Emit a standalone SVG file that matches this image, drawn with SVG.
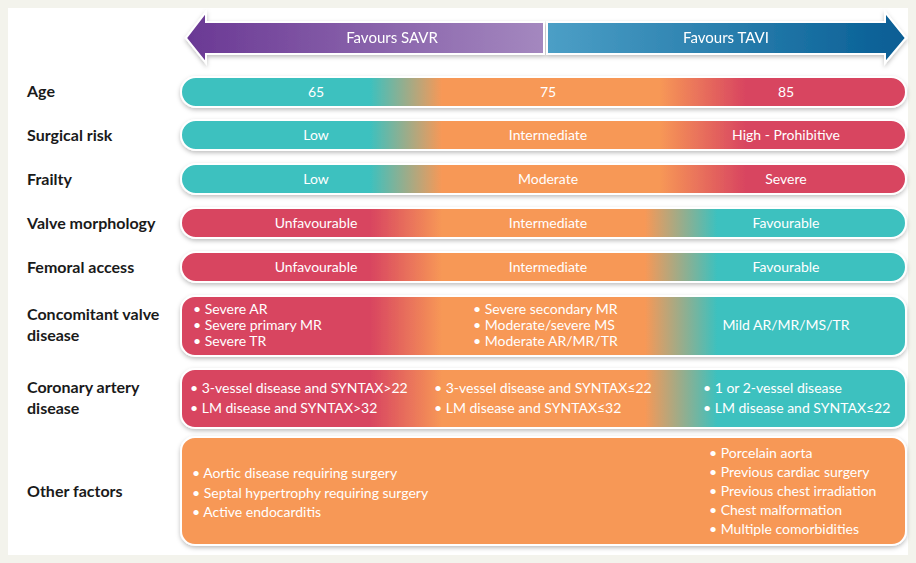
<svg xmlns="http://www.w3.org/2000/svg" width="916" height="563" viewBox="0 0 916 563">
<defs>
<linearGradient id="gP" x1="0" x2="1"><stop offset="0" stop-color="#6a3894"/><stop offset="1" stop-color="#a488bf"/></linearGradient>
<linearGradient id="gB" x1="0" x2="1"><stop offset="0" stop-color="#4c9fc6"/><stop offset="1" stop-color="#065d94"/></linearGradient>
<linearGradient id="gTOR" x1="0" x2="1"><stop offset="0.26" stop-color="#3cc1bf"/><stop offset="0.36" stop-color="#f79857"/><stop offset="0.66" stop-color="#f79857"/><stop offset="0.78" stop-color="#d84460"/></linearGradient>
<linearGradient id="gROT" x1="0" x2="1"><stop offset="0.26" stop-color="#d84460"/><stop offset="0.36" stop-color="#f79857"/><stop offset="0.64" stop-color="#f79857"/><stop offset="0.74" stop-color="#3cc1bf"/></linearGradient>
<filter id="sh" x="-5%" y="-20%" width="110%" height="150%"><feDropShadow dx="0" dy="2" stdDeviation="2" flood-color="#000" flood-opacity="0.25"/></filter>
</defs>
<style>
.bar{stroke:#fff;stroke-width:2;filter:url(#sh)}
.lab{font-family:"Lato","Liberation Sans",sans-serif;font-size:16px;font-weight:bold;fill:#1a1a1a}
.t{font-family:"Lato","Liberation Sans",sans-serif;font-size:14px;fill:#fff}
.a{font-size:15px}
.c{text-anchor:middle}
</style>
<rect width="916" height="563" fill="#f3f3ec"/>
<rect x="8" y="8" width="900" height="547" fill="#fff"/>
<g id="arrow" filter="url(#sh)">
<path d="M544,22 L206,22 L206,12 L186,38 L206,63 L206,54 L544,54 Z" fill="url(#gP)" stroke="#fff" stroke-width="2"/>
<path d="M547,22 L885,22 L885,12 L906,38 L885,63 L885,54 L547,54 Z" fill="url(#gB)" stroke="#fff" stroke-width="2"/>
<text class="t c a" x="392" y="43">Favours SAVR</text>
<text class="t c a" x="726" y="43">Favours TAVI</text>
</g>
<g id="age"><text class="lab" x="27" y="97">Age</text><rect class="bar" x="181" y="77" width="725" height="30" rx="15" fill="url(#gTOR)"/>
<text class="t c" x="316" y="97">65</text><text class="t c" x="548" y="97">75</text><text class="t c" x="786" y="97">85</text></g>
<g id="risk"><text class="lab" x="27" y="141">Surgical risk</text><rect class="bar" x="181" y="120" width="725" height="30" rx="15" fill="url(#gTOR)"/>
<text class="t c" x="316" y="140">Low</text><text class="t c" x="548" y="140">Intermediate</text><text class="t c" x="786" y="140">High - Prohibitive</text></g>
<g id="frailty"><text class="lab" x="27" y="185">Frailty</text><rect class="bar" x="181" y="164" width="725" height="30" rx="15" fill="url(#gTOR)"/>
<text class="t c" x="316" y="184">Low</text><text class="t c" x="548" y="184">Moderate</text><text class="t c" x="786" y="184">Severe</text></g>
<g id="valve"><text class="lab" x="27" y="229">Valve morphology</text><rect class="bar" x="181" y="208" width="725" height="30" rx="15" fill="url(#gROT)"/>
<text class="t c" x="316" y="228">Unfavourable</text><text class="t c" x="548" y="228">Intermediate</text><text class="t c" x="786" y="228">Favourable</text></g>
<g id="femoral"><text class="lab" x="27" y="273">Femoral access</text><rect class="bar" x="181" y="252" width="725" height="30" rx="15" fill="url(#gROT)"/>
<text class="t c" x="316" y="272">Unfavourable</text><text class="t c" x="548" y="272">Intermediate</text><text class="t c" x="786" y="272">Favourable</text></g>
<g id="concomitant"><text class="lab" x="27" y="320">Concomitant valve</text><text class="lab" x="27" y="341">disease</text>
<rect class="bar" x="181" y="296" width="725" height="60" rx="14" fill="url(#gROT)"/>
<text class="t" x="193" y="314">• Severe AR</text><text class="t" x="193" y="330">• Severe primary MR</text><text class="t" x="193" y="346">• Severe TR</text>
<text class="t" x="473" y="314">• Severe secondary MR</text><text class="t" x="473" y="330">• Moderate/severe MS</text><text class="t" x="473" y="346">• Moderate AR/MR/TR</text>
<text class="t c" x="786" y="330">Mild AR/MR/MS/TR</text></g>
<g id="coronary"><text class="lab" x="27" y="393">Coronary artery</text><text class="lab" x="27" y="414">disease</text>
<rect class="bar" x="181" y="369" width="725" height="59" rx="14" fill="url(#gROT)"/>
<text class="t" x="190" y="393">• 3-vessel disease and SYNTAX&gt;22</text><text class="t" x="190" y="413">• LM disease and SYNTAX&gt;32</text>
<text class="t" x="434" y="393">• 3-vessel disease and SYNTAX≤22</text><text class="t" x="434" y="413">• LM disease and SYNTAX≤32</text>
<text class="t" x="703" y="393">• 1 or 2-vessel disease</text><text class="t" x="703" y="413">• LM disease and SYNTAX≤22</text></g>
<g id="other"><text class="lab" x="27" y="497">Other factors</text>
<rect class="bar" x="181" y="437" width="725" height="108" rx="14" fill="#f79857"/>
<text class="t" x="192" y="478">• Aortic disease requiring surgery</text><text class="t" x="192" y="498">• Septal hypertrophy requiring surgery</text><text class="t" x="192" y="517">• Active endocarditis</text>
<text class="t" x="709" y="458">• Porcelain aorta</text><text class="t" x="709" y="477">• Previous cardiac surgery</text><text class="t" x="709" y="496">• Previous chest irradiation</text><text class="t" x="709" y="515">• Chest malformation</text><text class="t" x="709" y="534">• Multiple comorbidities</text></g>
</svg>
